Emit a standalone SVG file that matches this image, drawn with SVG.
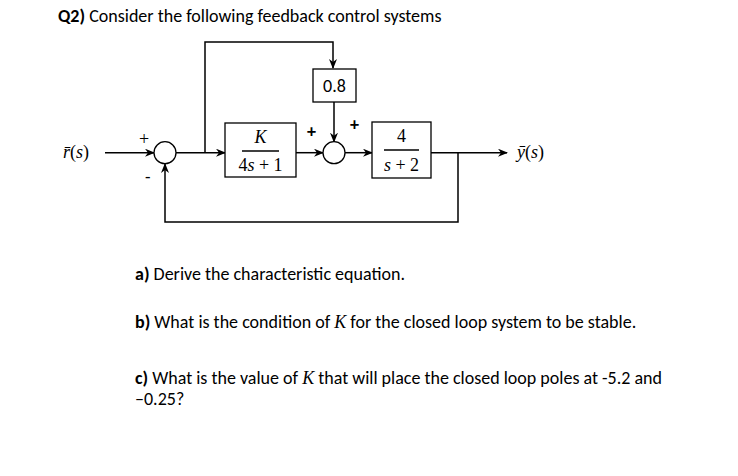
<svg xmlns="http://www.w3.org/2000/svg" width="738" height="476" viewBox="0 0 738 476">
<defs><marker id="a" markerWidth="10" markerHeight="8" refX="9" refY="4" orient="auto" markerUnits="userSpaceOnUse"><path d="M0,0 L10,4 L0,8 L3,4 z" fill="#000"/></marker></defs>
<style>.l{fill:none;stroke:#000;stroke-width:1.5}.b{fill:#fff;stroke:#000;stroke-width:1.3}.t{font-family:Calibri,Carlito,'Liberation Sans',sans-serif;font-size:18px}.m{font-family:'Liberation Serif',serif;font-size:18px}</style>
<rect width="738" height="476" fill="#fff"/>
<text x="58" y="22" class="t"><tspan font-weight="bold">Q2)</tspan> Consider the following feedback control systems</text>
<g id="connectors">
<path class="l" d="M105,152.7 H154" marker-end="url(#a)"/>
<path class="l" d="M176,152.7 H225" marker-end="url(#a)"/>
<path class="l" d="M205,152.7 V42 H333 V68" marker-end="url(#a)"/>
<path class="l" d="M296,152.7 H323" marker-end="url(#a)"/>
<path class="l" d="M334,102 V141.7" marker-end="url(#a)"/>
<path class="l" d="M345,152.7 H372" marker-end="url(#a)"/>
<path class="l" d="M431,152.7 H507" marker-end="url(#a)"/>
<path class="l" d="M458,152.7 V222 H165 V164" marker-end="url(#a)"/>
</g>
<g id="sum1"><circle class="b" cx="165" cy="152.7" r="11"/><text x="139" y="145" class="m">+</text><text x="145" y="183" class="t" font-size="12">-</text></g>
<g id="gK"><rect class="b" x="225" y="123" width="71" height="54"/><text x="260.5" y="143" class="m" text-anchor="middle" font-style="italic">K</text><line x1="242" y1="151" x2="279" y2="151" stroke="#000" stroke-width="1.5"/><text x="260.5" y="171" class="m" text-anchor="middle">4<tspan font-style="italic">s</tspan> + 1</text></g>
<g id="g08"><rect class="b" x="313" y="69" width="43" height="33"/><text x="334.5" y="92" class="t" font-size="16" text-anchor="middle">0.8</text></g>
<g id="sum2"><circle class="b" cx="334" cy="152.7" r="11"/><text x="307" y="137" class="t" font-size="11" font-weight="bold">+</text><text x="350" y="130" class="t" font-size="11" font-weight="bold">+</text></g>
<g id="g4"><rect class="b" x="372" y="122" width="59" height="56"/><text x="401.5" y="142" class="m" text-anchor="middle">4</text><line x1="384" y1="150" x2="419" y2="150" stroke="#000" stroke-width="1.5"/><text x="401.5" y="171" class="m" text-anchor="middle"><tspan font-style="italic">s</tspan> + 2</text></g>
<text x="63" y="158" class="m"><tspan font-style="italic">r̄</tspan>(<tspan font-style="italic">s</tspan>)</text>
<text x="517" y="158" class="m"><tspan font-style="italic">ȳ</tspan>(<tspan font-style="italic">s</tspan>)</text>
<text x="135" y="280" class="t"><tspan font-weight="bold">a)</tspan> Derive the characteristic equation.</text>
<text x="135" y="328" class="t"><tspan font-weight="bold">b)</tspan> What is the condition of <tspan class="m" font-style="italic">K</tspan> for the closed loop system to be stable.</text>
<text x="135" y="384" class="t"><tspan font-weight="bold">c)</tspan> What is the value of <tspan class="m" font-style="italic">K</tspan> that will place the closed loop poles at -5.2 and</text>
<text x="135" y="405" class="t">–0.25?</text>
</svg>
